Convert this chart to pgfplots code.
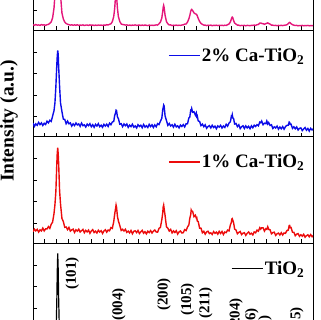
\documentclass[border=0pt]{standalone}
\usepackage{fontspec}
\setmainfont{Liberation Serif}
\usepackage{pgfplots}
\usepackage{pgfplotstable}
\pgfplotsset{compat=1.18}

\definecolor{capink}{RGB}{228,22,122}
\definecolor{cablue}{RGB}{12,12,232}
\definecolor{cared}{RGB}{236,12,12}

% XRD patterns: 2theta (deg) and intensity of each doped sample (arb. units)
\pgfplotstableread{
x p b r
20.0 5.3 13.4 11.3
20.3 4.7 10.1 13.9
20.6 5.5 12.6 12.1
20.9 4.8 11.2 13.7
21.2 5.1 14.1 10.9
21.5 4.6 11.9 13.2
21.8 5.4 13.6 12.1
22.1 4.9 11.0 14.9
22.4 5.2 13.2 12.1
22.7 4.6 12.0 14.1
23.0 5.3 15.3 14.0
23.3 5.6 13.6 16.4
23.6 6.6 16.2 14.6
23.9 8.1 15.1 18.7
24.2 12.1 20.4 20.9
24.5 21.8 25.8 29.5
24.7 35.0 33.5 38.3
24.9 55.0 49.8 51.5
25.1 80.0 71.5 79.1
25.2 90.0 80.5 90.2
25.3 95.0 86.1 95.2
25.4 90.0 82.0 89.2
25.5 80.0 69.6 79.2
25.7 55.0 49.9 52.1
25.9 35.0 33.4 38.9
26.2 17.0 24.9 24.6
26.5 11.0 17.4 21.4
26.8 8.0 17.1 15.7
27.1 6.5 12.8 16.0
27.4 5.8 15.4 13.4
27.7 5.3 12.7 15.6
28.0 4.9 13.6 11.9
28.3 5.2 10.4 13.1
28.6 4.7 12.6 13.9
28.9 5.1 10.9 10.6
29.2 4.8 13.5 13.2
29.5 5.2 11.6 11.9
29.8 4.6 12.6 13.8
30.1 5.0 10.1 11.0
30.4 4.7 13.4 12.3
30.7 5.1 10.8 13.6
31.0 4.5 11.7 10.3
31.3 4.9 9.5 12.6
31.6 5.0 12.4 11.1
31.9 4.6 10.8 12.9
32.2 5.1 12.8 9.7
32.5 4.7 9.8 12.1
32.8 5.0 11.8 13.4
33.1 4.5 9.2 10.4
33.4 4.9 12.2 11.8
33.7 4.6 10.5 10.0
34.0 5.0 12.8 12.8
34.3 4.7 9.8 11.0
34.6 4.9 11.3 12.3
34.9 4.5 9.2 9.5
35.2 5.0 12.1 12.0
35.5 4.7 10.4 13.2
35.8 5.3 12.3 10.8
36.1 5.0 10.0 13.0
36.4 5.7 13.3 12.2
36.7 6.2 11.8 15.4
37.0 8.3 14.5 14.6
37.3 13.5 15.1 21.4
37.5 21.3 20.8 28.7
37.7 34.5 23.7 34.7
37.8 37.8 26.3 37.9
37.9 34.3 25.9 35.7
38.1 21.3 19.5 26.5
38.3 13.3 17.9 22.0
38.6 8.5 12.3 17.5
38.9 6.0 12.8 12.5
39.2 5.5 9.8 13.7
39.5 5.3 12.5 12.0
39.8 4.9 10.8 13.7
40.1 5.1 12.5 10.6
40.4 4.6 9.1 11.9
40.7 5.0 11.4 10.1
41.0 4.5 9.9 12.5
41.3 4.9 12.3 9.2
41.6 4.7 9.3 11.7
41.9 5.1 10.6 12.2
42.2 4.6 8.5 10.4
42.5 4.8 11.8 12.5
42.8 5.0 10.0 9.5
43.1 4.5 11.3 11.2
43.4 4.9 8.8 12.7
43.7 4.6 12.0 9.8
44.0 5.0 9.4 11.3
44.3 4.7 10.8 9.1
44.6 4.4 9.0 11.8
44.9 4.9 12.1 10.4
45.2 4.6 9.9 12.4
45.5 4.8 11.7 10.0
45.8 4.5 9.0 11.9
46.1 4.8 11.6 13.0
46.4 5.1 9.7 11.0
46.7 4.9 12.9 10.8
47.0 6.2 11.9 14.6
47.3 7.9 15.3 15.6
47.6 11.9 18.2 23.2
47.8 18.5 26.8 30.1
47.9 22.7 28.7 36.1
48.0 24.6 31.5 37.9
48.1 22.5 30.6 34.5
48.3 14.8 20.7 27.6
48.6 8.4 15.9 16.2
48.9 6.1 11.1 14.8
49.2 5.0 13.0 12.0
49.5 5.1 10.5 13.6
49.8 4.4 11.8 10.1
50.1 4.8 9.3 12.1
50.4 4.6 12.2 10.5
50.7 4.9 9.6 12.3
51.0 4.5 10.7 8.9
51.3 4.8 8.6 11.1
51.6 4.6 11.5 12.0
51.9 5.0 10.0 10.0
52.2 5.1 11.9 10.3
52.5 5.9 9.6 13.4
52.8 6.0 12.6 12.4
53.1 7.8 12.7 15.9
53.4 11.2 18.4 18.1
53.6 14.5 19.5 24.7
53.8 18.7 26.3 28.4
53.9 20.1 26.1 33.0
54.0 20.6 28.0 32.0
54.2 19.5 24.2 31.7
54.5 17.1 24.7 26.3
54.8 16.1 21.3 27.8
55.0 15.8 23.5 24.8
55.1 15.2 19.9 25.2
55.2 14.1 20.6 21.9
55.4 11.7 15.6 21.5
55.7 8.5 15.0 14.9
56.0 6.6 10.9 14.8
56.3 5.6 12.4 10.2
56.6 4.9 9.8 11.6
56.9 4.9 11.7 8.8
57.2 4.4 8.2 11.1
57.5 4.8 10.0 11.8
57.8 4.5 10.9 9.4
58.1 4.9 8.6 10.2
58.4 4.3 11.2 8.5
58.7 4.7 9.0 11.4
59.0 4.5 10.3 9.7
59.3 4.8 7.7 10.9
59.6 4.4 10.6 8.8
59.9 4.7 9.4 11.6
60.2 4.5 11.2 9.5
60.5 4.7 8.5 11.5
60.8 4.4 10.5 8.5
61.1 4.8 9.0 11.0
61.4 4.6 12.2 10.4
61.7 5.3 10.3 12.9
62.0 6.0 13.4 12.1
62.3 8.1 14.8 18.2
62.5 10.8 20.1 20.6
62.6 12.2 19.5 24.0
62.7 12.9 21.7 24.4
62.8 12.4 18.9 23.0
63.0 9.3 17.7 20.0
63.2 7.0 12.5 14.0
63.5 5.9 13.0 13.0
63.8 4.9 9.9 9.2
64.1 4.8 11.7 10.6
64.4 4.3 7.9 11.5
64.7 4.6 9.8 8.4
65.0 4.4 10.7 9.8
65.3 4.7 8.0 10.3
65.6 4.2 10.6 7.6
65.9 4.6 8.6 9.7
66.2 4.5 10.2 11.1
66.5 4.3 7.8 8.8
66.8 4.7 10.7 9.8
67.1 4.6 8.7 8.1
67.4 4.9 11.3 11.1
67.7 4.6 10.0 10.2
68.0 5.3 11.8 12.9
68.3 5.5 10.7 11.8
68.6 6.9 14.4 15.3
68.8 7.0 13.8 13.9
69.0 6.5 15.5 15.2
69.3 6.3 11.8 15.2
69.6 5.7 13.3 11.9
69.9 6.4 12.8 14.4
70.1 6.7 15.5 13.7
70.3 7.1 12.5 16.3
70.5 6.5 13.9 13.6
70.8 5.9 11.0 13.2
71.1 4.9 11.7 9.2
71.4 4.8 8.0 10.5
71.7 4.5 9.7 10.8
72.0 4.6 8.5 7.6
72.3 4.3 10.4 9.2
72.6 4.6 7.3 9.9
72.9 4.4 9.5 8.0
73.2 4.7 7.7 10.3
73.5 4.4 9.9 8.0
73.8 4.7 7.3 10.0
74.1 4.9 9.8 9.7
74.4 5.2 11.1 12.4
74.7 6.4 11.3 12.9
74.9 7.4 14.5 17.5
75.0 7.6 14.0 17.6
75.1 7.3 12.1 15.4
75.3 6.3 12.3 15.5
75.6 5.3 8.1 10.8
75.9 4.8 9.7 10.7
76.2 4.5 7.7 7.3
76.5 4.6 9.6 8.9
76.8 4.2 6.5 9.4
77.1 4.5 8.1 6.7
77.4 4.3 8.6 8.2
77.7 4.6 5.9 6.8
78.0 4.2 7.6 8.7
78.3 4.5 8.9 5.8
78.6 4.3 6.3 7.3
78.9 4.6 8.0 8.2
79.2 4.2 5.4 6.2
79.5 4.4 8.1 8.4
79.8 4.3 6.6 6.3
80.0 4.5 7.7 7.5
}\xrd

\pgfplotsset{
  panel/.style={
    scale only axis, width=280pt, height=106.5pt, anchor=south west,
    xmin=20, xmax=80, ymin=0, ymax=106.5,
    xtick={22.5,25,...,77.5}, ytick={20,41.5,63,84.5},
    xticklabels={}, yticklabels={},
    tick align=inside, xtick pos=lower, ytick pos=left,
    major tick length=3.5pt,
    axis line style={line width=0.8pt},
    every tick/.style={black, line width=0.7pt},
    legend style={draw=none, fill=none, at={(0.975,0.76)}, anchor=east,
      font=\bfseries\fontsize{19}{21}\selectfont, inner sep=0pt,
      nodes={inner sep=1.5pt}},
    legend image code/.code={\draw (0pt,0pt) -- (31pt,0pt);},
  },
}
\tikzset{
  hkl/.style={rotate=90, anchor=east, inner sep=0pt,
    font=\bfseries\fontsize{15}{16}\selectfont},
}

\begin{document}
\begin{tikzpicture}
\useasboundingbox (0,0) rectangle (320pt,320pt);
\begin{scope}
\clip (0,0) rectangle (320pt,320pt);

% 3% sample (top panel)
\begin{axis}[panel, at={(33pt,290pt)}]
\addplot[capink, line width=1.4pt] table[x=x, y=p] {\xrd};
\end{axis}

% 2% sample
\begin{axis}[panel, at={(33pt,183.5pt)}, legend image post style={draw=cablue, line width=1.2pt}]
\addplot[cablue, line width=1.4pt] table[x=x, y=b] {\xrd};
\addlegendentry{2\% Ca-TiO\textsubscript{2}}
\end{axis}

% 1% sample
\begin{axis}[panel, at={(33pt,77pt)}, legend image post style={draw=cared, line width=1.2pt}]
\addplot[cared, line width=1.4pt] table[x=x, y=r] {\xrd};
\addlegendentry{1\% Ca-TiO\textsubscript{2}}
\end{axis}

% undoped anatase TiO2 with reflection indices
\begin{axis}[panel, at={(33pt,-29.5pt)}, legend image post style={draw=black, line width=1.2pt}]
\addplot[black, line width=1.2pt] coordinates {
(20,4)(21,3.5)(22,4.2)(23,3.8)(24,4.5)(24.5,6)(24.7,8)(24.9,18)(25.0,28)
(25.1,48)(25.2,78)(25.3,96)(25.4,80)(25.5,50)(25.6,30)(25.7,20)(25.9,12)
(26.2,8)(26.6,5.5)(27.5,4.2)(30,3.8)(33,3.6)(36,4)(37.2,6)(37.6,12)
(37.8,20)(38.0,12)(38.4,6)(40,3.6)(45,3.5)(47.4,6)(47.8,16)(48.0,24)
(48.2,16)(48.6,6)(50,3.5)(53.2,5)(53.7,12)(53.9,17)(54.2,12)(54.7,8)
(55.0,15)(55.1,16)(55.4,9)(56,4.5)(60,3.4)(62.2,5)(62.5,9)(62.7,12)
(62.9,9)(63.3,4.8)(66,3.3)(68.4,5)(68.8,8)(69.2,5)(70,5)(70.3,7)
(70.7,4.5)(73,3.2)(74.6,5)(75.0,9)(75.4,5)(77,3.2)(80,3)};
\addlegendentry{TiO\textsubscript{2}}
\node[hkl] at (axis cs:28.4,92.5) {(101)};
\node[hkl] at (axis cs:38.4,61.5) {(004)};
\node[hkl] at (axis cs:48.1,71.5) {(200)};
\node[hkl] at (axis cs:53.1,66.5) {(105)};
\node[hkl] at (axis cs:57.0,62.5) {(211)};
\node[hkl] at (axis cs:63.5,51.5) {(204)};
\node[hkl] at (axis cs:66.9,41.5) {(116)};
\node[hkl] at (axis cs:69.7,34.5) {(220)};
\node[hkl] at (axis cs:76.5,42.5) {(215)};
\end{axis}

\node[rotate=90, font=\bfseries\fontsize{19.5}{21}\selectfont] at (9pt,199pt) {Intensity (a.u.)};
\end{scope}
\end{tikzpicture}
\end{document}
